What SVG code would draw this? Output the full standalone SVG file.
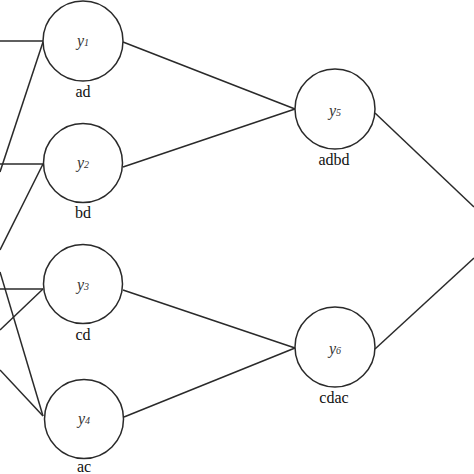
<svg xmlns="http://www.w3.org/2000/svg" width="474" height="474" viewBox="0 0 474 474">
<style>
.node circle{fill:#fff;stroke:#2a2a2a;stroke-width:1.5}
.edges line{stroke:#2a2a2a;stroke-width:1.5}
.v{font-family:"Liberation Serif",serif;font-style:italic;font-size:16px;fill:#333;text-anchor:middle}
.v tspan{font-size:10px}
.lbl{font-family:"Liberation Serif",serif;font-size:16px;fill:#111;text-anchor:middle}
</style>
<rect width="474" height="474" fill="#fff"/>
<g class="edges">
<line x1="0" y1="41" x2="43" y2="41"/>
<line x1="0" y1="172" x2="43" y2="42"/>
<line x1="0" y1="164" x2="43" y2="164"/>
<line x1="0" y1="250" x2="43" y2="164"/>
<line x1="0" y1="289" x2="43" y2="289"/>
<line x1="0" y1="330" x2="43" y2="289"/>
<line x1="0" y1="272" x2="43" y2="416"/>
<line x1="0" y1="370" x2="43" y2="416"/>
<line x1="123" y1="42" x2="295" y2="109"/>
<line x1="123" y1="167" x2="295" y2="109"/>
<line x1="123" y1="290" x2="295" y2="348"/>
<line x1="124" y1="417" x2="295" y2="348"/>
<line x1="375" y1="113" x2="474" y2="207"/>
<line x1="375" y1="349" x2="474" y2="258"/>
</g>
<g id="y1" class="node"><circle cx="83" cy="41" r="40"/><text class="v" x="83" y="46">y<tspan>1</tspan></text><text class="lbl" x="83" y="97">ad</text></g>
<g id="y2" class="node"><circle cx="83" cy="163" r="39.5"/><text class="v" x="83" y="168">y<tspan>2</tspan></text><text class="lbl" x="83" y="218">bd</text></g>
<g id="y3" class="node"><circle cx="83" cy="284" r="39.5"/><text class="v" x="83" y="290">y<tspan>3</tspan></text><text class="lbl" x="83" y="340">cd</text></g>
<g id="y4" class="node"><circle cx="84" cy="419" r="39.5"/><text class="v" x="84" y="424">y<tspan>4</tspan></text><text class="lbl" x="84" y="472">ac</text></g>
<g id="y5" class="node"><circle cx="335" cy="109" r="40"/><text class="v" x="335" y="116">y<tspan>5</tspan></text><text class="lbl" x="334" y="165">adbd</text></g>
<g id="y6" class="node"><circle cx="335" cy="347" r="40"/><text class="v" x="335" y="354">y<tspan>6</tspan></text><text class="lbl" x="334" y="403">cdac</text></g>
</svg>
